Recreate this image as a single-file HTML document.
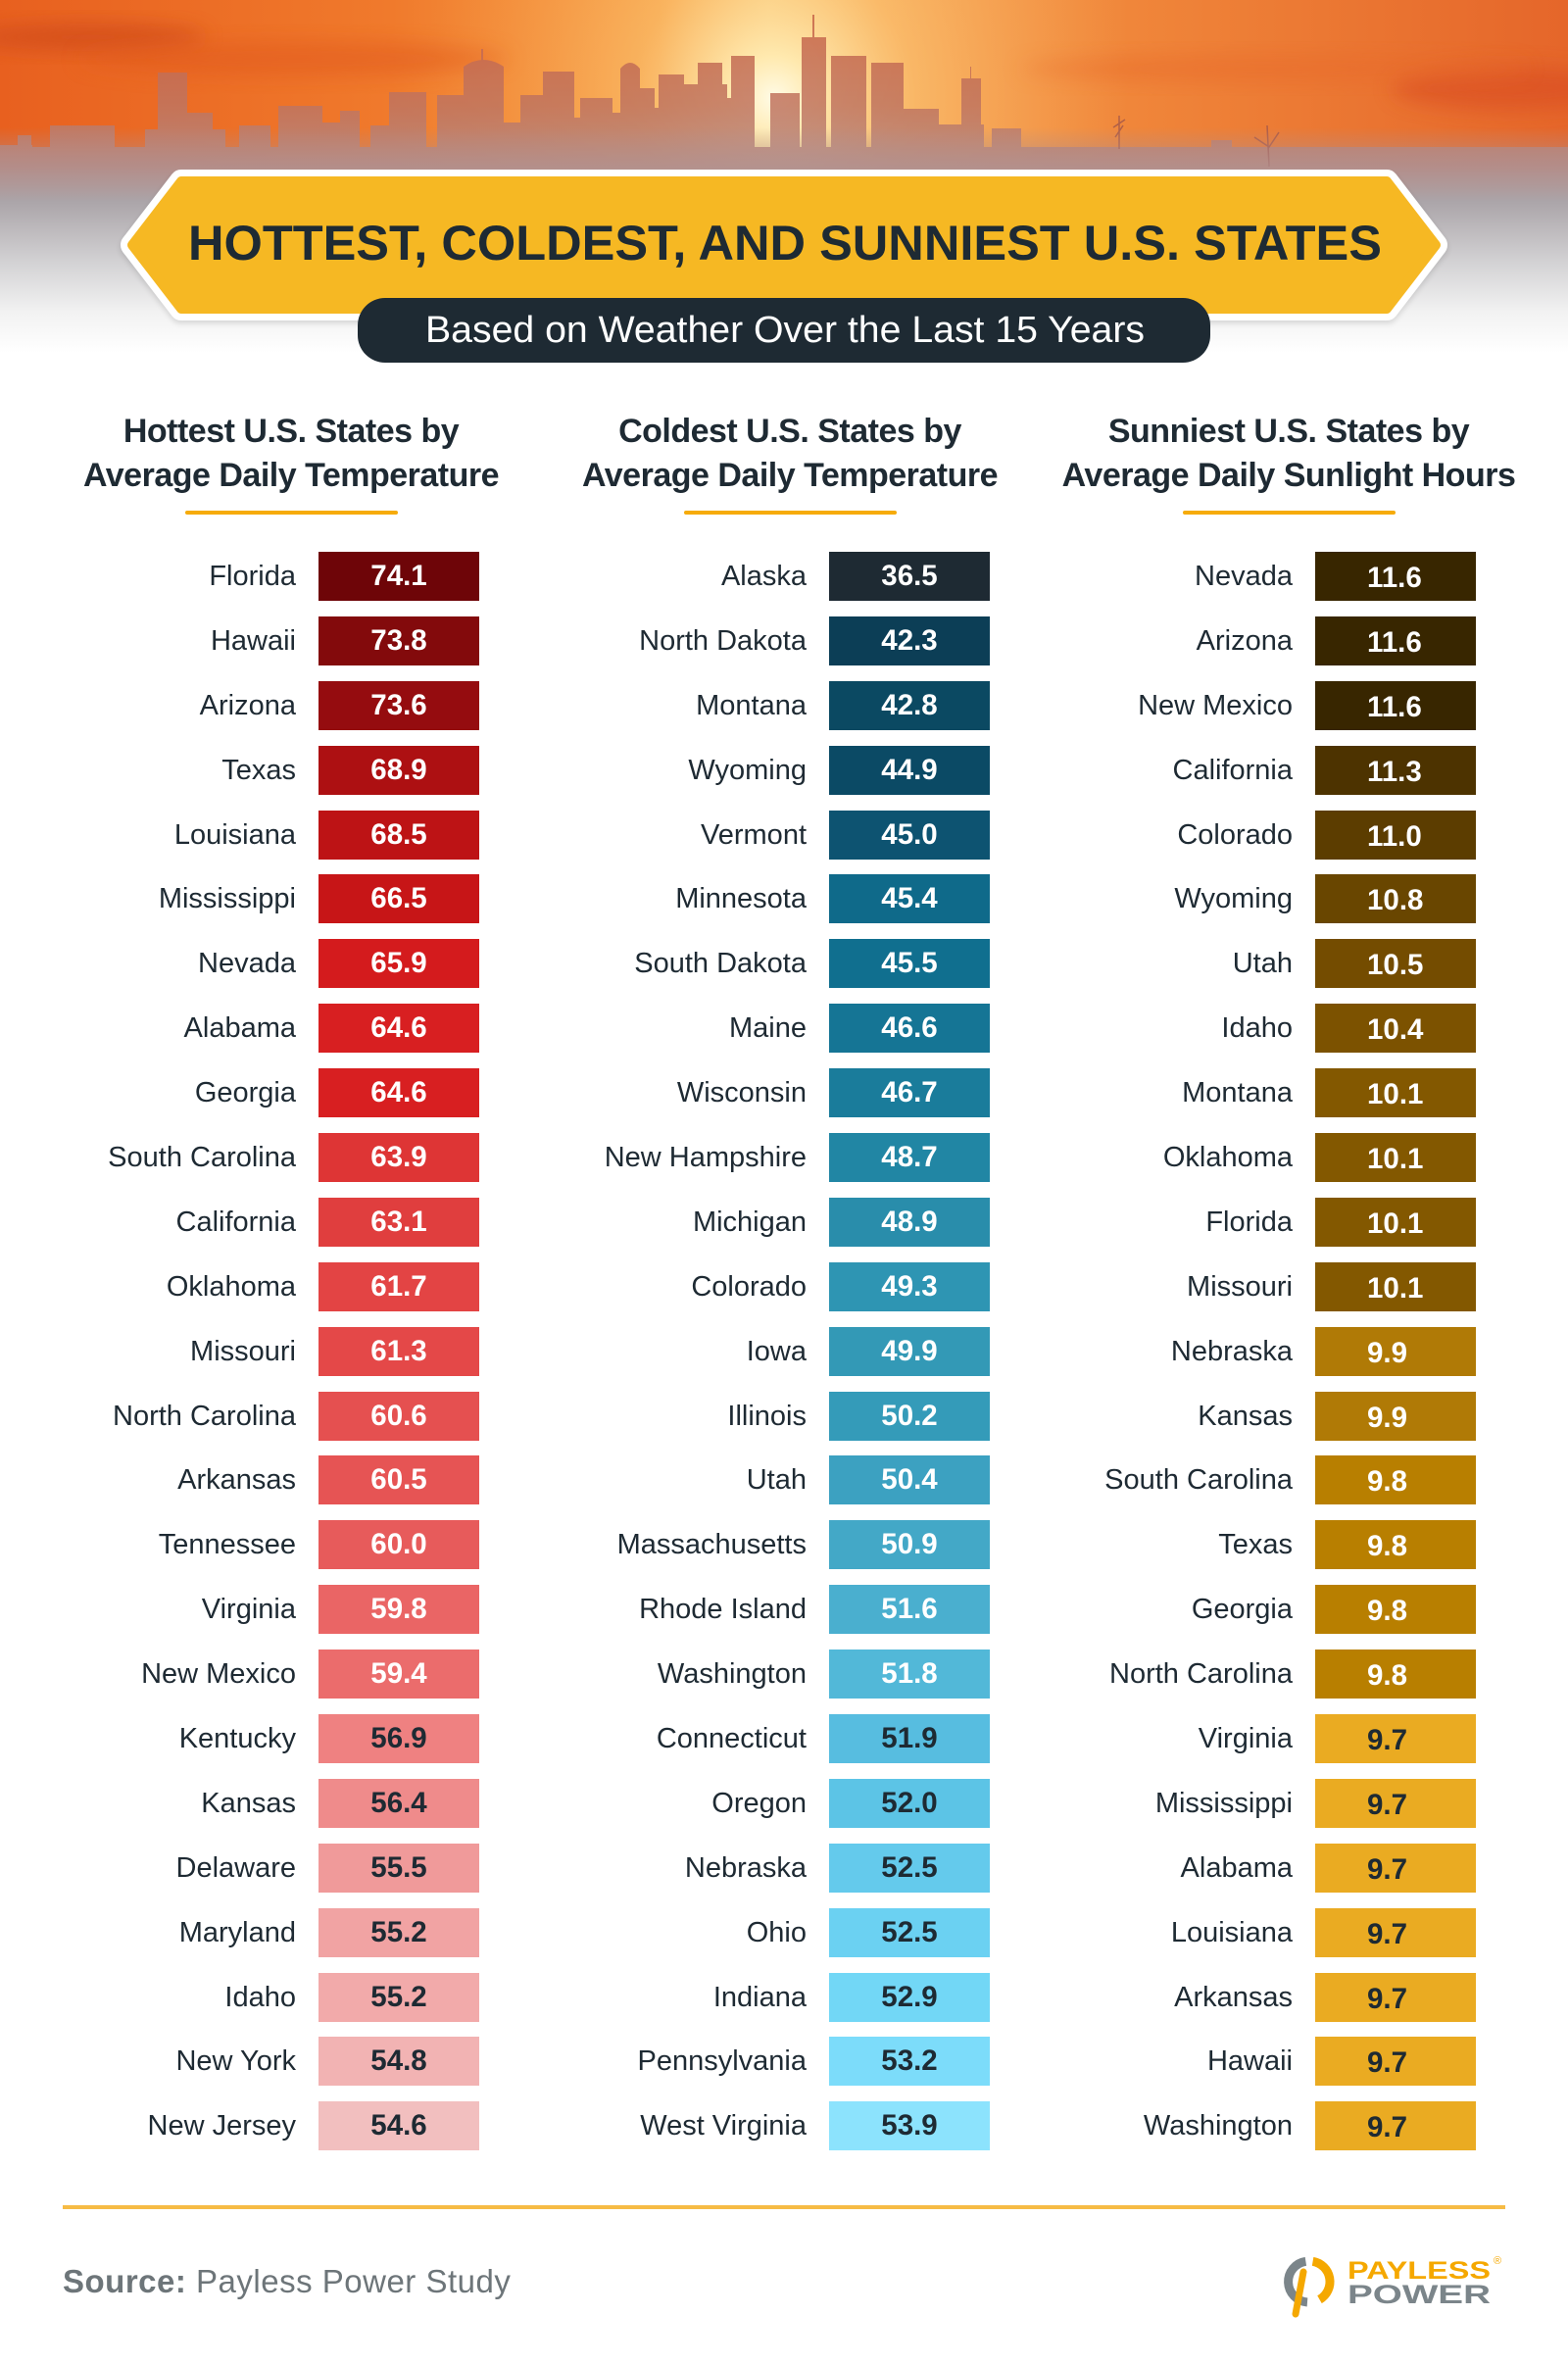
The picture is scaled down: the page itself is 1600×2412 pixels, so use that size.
<!DOCTYPE html>
<html><head><meta charset="utf-8">
<style>
*{margin:0;padding:0;box-sizing:border-box}
html,body{width:1600px;height:2412px;background:#fff;overflow:hidden}
body{position:relative;font-family:"Liberation Sans",sans-serif;color:#1e2a33}
#hdr{position:absolute;left:0;top:0}
.h{position:absolute;top:418px;width:560px;text-align:center;font-weight:bold;font-size:34px;line-height:45px;letter-spacing:-0.5px;color:#1e2a33;white-space:nowrap}
.ul{position:absolute;top:521px;height:4px;width:217px;border-radius:2px;background:#f6ab0a}
.col{position:absolute;top:563px;width:164px}
.r{position:relative;height:65.9px}
.l{position:absolute;right:100%;margin-right:23px;top:0;height:50px;line-height:50px;font-size:29px;white-space:nowrap;color:#1e2a33}
.v{position:absolute;left:0;top:0;width:164px;height:50px;line-height:50px;text-align:center;font-weight:bold;font-size:29.5px;color:#fff}
.d{color:#1e2a33}
.c3 .v{text-align:left;padding-left:53px;line-height:54px}
#foot{position:absolute;left:64px;top:2250px;width:1472px;height:4px;background:#f6bb45}
#src{position:absolute;left:64px;top:2308px;font-size:33px;line-height:40px;color:#6d7579;letter-spacing:0.5px;white-space:nowrap}
#logo{position:absolute;left:0;top:0}
</style></head><body>

<svg id="hdr" width="1600" height="400" viewBox="0 0 1600 400">
<defs>
<linearGradient id="sky" x1="0" y1="0" x2="1600" y2="0" gradientUnits="userSpaceOnUse">
<stop offset="0" stop-color="#e8601f"/>
<stop offset="0.25" stop-color="#f07a2c"/>
<stop offset="0.42" stop-color="#f7a64c"/>
<stop offset="0.49" stop-color="#fcd98e"/>
<stop offset="0.56" stop-color="#f8b462"/>
<stop offset="0.72" stop-color="#f0863a"/>
<stop offset="1" stop-color="#e5662a"/>
</linearGradient>
<radialGradient id="sun" cx="790" cy="100" r="360" gradientUnits="userSpaceOnUse">
<stop offset="0" stop-color="#fffbe6" stop-opacity="1"/>
<stop offset="0.12" stop-color="#ffeab0" stop-opacity="0.95"/>
<stop offset="0.4" stop-color="#fbc070" stop-opacity="0.5"/>
<stop offset="1" stop-color="#f59040" stop-opacity="0"/>
</radialGradient>
<linearGradient id="bld" x1="0" y1="20" x2="0" y2="180" gradientUnits="userSpaceOnUse">
<stop offset="0" stop-color="#c8664a"/>
<stop offset="0.55" stop-color="#c07560"/>
<stop offset="1" stop-color="#b48e8a"/>
</linearGradient>
<linearGradient id="haze" x1="0" y1="130" x2="0" y2="360" gradientUnits="userSpaceOnUse">
<stop offset="0" stop-color="#b08c8c" stop-opacity="0"/>
<stop offset="0.17" stop-color="#b09090" stop-opacity="0.7"/>
<stop offset="0.33" stop-color="#aba5a9" stop-opacity="1"/>
<stop offset="0.6" stop-color="#d3d2d4"/>
<stop offset="0.82" stop-color="#f2f2f2"/>
<stop offset="1" stop-color="#ffffff"/>
</linearGradient>
<filter id="bl" x="-20%" y="-50%" width="140%" height="200%"><feGaussianBlur stdDeviation="10"/></filter>
<filter id="sh" x="-5%" y="-10%" width="110%" height="130%"><feGaussianBlur stdDeviation="3"/></filter>
</defs>
<rect x="0" y="0" width="1600" height="400" fill="url(#sky)"/>
<ellipse cx="90" cy="38" rx="120" ry="14" fill="#cf4a1c" opacity="0.7" filter="url(#bl)"/>
<ellipse cx="300" cy="60" rx="220" ry="18" fill="#e0581e" opacity="0.5" filter="url(#bl)"/>
<ellipse cx="1540" cy="90" rx="120" ry="22" fill="#d94c22" opacity="0.6" filter="url(#bl)"/>
<ellipse cx="1300" cy="70" rx="260" ry="14" fill="#e86a2c" opacity="0.5" filter="url(#bl)"/>
<rect x="0" y="0" width="1600" height="400" fill="url(#sun)"/>
<g fill="url(#bld)" opacity="0.85">
<rect x="0" y="150" width="1600" height="60"/>
<rect x="0" y="148" width="33" height="20"/><rect x="18" y="138" width="14" height="20"/>
<rect x="51" y="128" width="66" height="40"/>
<rect x="148" y="132" width="82" height="40"/><rect x="161" y="74" width="30" height="80"/><rect x="191" y="115" width="26" height="40"/>
<rect x="244" y="128" width="32" height="40"/>
<rect x="284" y="108" width="45" height="60"/><rect x="329" y="125" width="18" height="40"/><rect x="347" y="113" width="20" height="50"/>
<rect x="378" y="128" width="56" height="40"/><rect x="397" y="94" width="38" height="70"/>
<rect x="446" y="97" width="28" height="70"/>
<path d="M473,160 L473,68 Q493,54 514,68 L514,160 Z"/><rect x="491" y="50" width="2" height="12"/>
<rect x="514" y="125" width="17" height="40"/>
<rect x="531" y="97" width="35" height="70"/><rect x="554" y="73" width="32" height="90"/>
<rect x="586" y="120" width="6" height="40"/>
<rect x="592" y="100" width="33" height="70"/><rect x="625" y="115" width="8" height="50"/>
<path d="M633,160 L633,70 Q643,58 653,70 L653,160 Z"/><rect x="653" y="90" width="15" height="70"/>
<rect x="668" y="110" width="23" height="60"/><rect x="672" y="76" width="26" height="80"/>
<rect x="691" y="86" width="51" height="80"/><rect x="712" y="64" width="25" height="80"/>
<rect x="742" y="100" width="4" height="60"/><rect x="746" y="57" width="24" height="100"/>
<rect x="786" y="95" width="30" height="70"/>
<rect x="818" y="38" width="25" height="130"/><rect x="829" y="15" width="2" height="25"/>
<rect x="848" y="57" width="36" height="110"/>
<rect x="889" y="64" width="33" height="100"/>
<rect x="922" y="111" width="36" height="60"/>
<rect x="958" y="127" width="46" height="40"/><rect x="981" y="80" width="20" height="70"/><rect x="990" y="68" width="1" height="14"/>
<rect x="1012" y="131" width="30" height="40"/>
<rect x="1042" y="150" width="54" height="20"/>
<rect x="1096" y="152" width="51" height="20"/>
<rect x="1162" y="150" width="18" height="20"/>
<rect x="1188" y="155" width="20" height="20"/>
<rect x="1216" y="157" width="20" height="20"/><rect x="1236" y="143" width="21" height="30"/>
<rect x="1297" y="153" width="69" height="20"/>
<rect x="1389" y="160" width="46" height="20"/>
<rect x="1448" y="162" width="20" height="20"/>
<rect x="1486" y="160" width="18" height="20"/>
<rect x="1504" y="162" width="96" height="20"/>
</g>
<g stroke="#a0554a" stroke-width="1.5" fill="none" opacity="0.8">
<path d="M1142,152 L1142,118 M1136,130 L1148,122 M1138,140 L1146,128"/>
<path d="M1293,128 L1295,170 M1280,140 L1295,150 L1305,135"/>
</g>
<rect x="0" y="130" width="1600" height="270" fill="url(#haze)"/>
<path d="M185,185 L1415,185 L1465,250 L1415,315 L185,315 L135,250 Z" fill="#000" opacity="0.12" stroke="#000" stroke-width="24" stroke-linejoin="round" filter="url(#sh)" transform="translate(0,3)"/>
<path d="M185,185 L1415,185 L1465,250 L1415,315 L185,315 L135,250 Z" fill="#ffffff" stroke="#ffffff" stroke-width="24" stroke-linejoin="round"/>
<path d="M185,185 L1415,185 L1465,250 L1415,315 L185,315 L135,250 Z" fill="#f6b823" stroke="#f6b823" stroke-width="10" stroke-linejoin="round"/>
<text x="801" y="265" text-anchor="middle" font-family="Liberation Sans, sans-serif" font-weight="bold" font-size="50" fill="#1e2a33" textLength="1218" lengthAdjust="spacingAndGlyphs">HOTTEST, COLDEST, AND SUNNIEST U.S. STATES</text>
<rect x="365" y="304" width="870" height="66" rx="28" ry="28" fill="#1e2a33"/>
<text x="801" y="349" text-anchor="middle" font-family="Liberation Sans, sans-serif" font-size="38" fill="#ffffff" textLength="734" lengthAdjust="spacingAndGlyphs">Based on Weather Over the Last 15 Years</text>
</svg>

<div class="h" style="left:17px">Hottest U.S. States by<br>Average Daily Temperature</div>
<div class="h" style="left:526px">Coldest U.S. States by<br>Average Daily Temperature</div>
<div class="h" style="left:1035px">Sunniest U.S. States by<br>Average Daily Sunlight Hours</div>
<div class="ul" style="left:189px"></div>
<div class="ul" style="left:698px"></div>
<div class="ul" style="left:1207px"></div>

<div class="col" style="left:325px">
<div class="r"><span class="l">Florida</span><span class="v" style="background:#6e0508">74.1</span></div>
<div class="r"><span class="l">Hawaii</span><span class="v" style="background:#830a0c">73.8</span></div>
<div class="r"><span class="l">Arizona</span><span class="v" style="background:#950c0f">73.6</span></div>
<div class="r"><span class="l">Texas</span><span class="v" style="background:#ad1012">68.9</span></div>
<div class="r"><span class="l">Louisiana</span><span class="v" style="background:#bd1315">68.5</span></div>
<div class="r"><span class="l">Mississippi</span><span class="v" style="background:#c71517">66.5</span></div>
<div class="r"><span class="l">Nevada</span><span class="v" style="background:#d41b1d">65.9</span></div>
<div class="r"><span class="l">Alabama</span><span class="v" style="background:#d81f21">64.6</span></div>
<div class="r"><span class="l">Georgia</span><span class="v" style="background:#d81f21">64.6</span></div>
<div class="r"><span class="l">South Carolina</span><span class="v" style="background:#de3535">63.9</span></div>
<div class="r"><span class="l">California</span><span class="v" style="background:#e03e3e">63.1</span></div>
<div class="r"><span class="l">Oklahoma</span><span class="v" style="background:#e34444">61.7</span></div>
<div class="r"><span class="l">Missouri</span><span class="v" style="background:#e44848">61.3</span></div>
<div class="r"><span class="l">North Carolina</span><span class="v" style="background:#e55050">60.6</span></div>
<div class="r"><span class="l">Arkansas</span><span class="v" style="background:#e65454">60.5</span></div>
<div class="r"><span class="l">Tennessee</span><span class="v" style="background:#e75b5b">60.0</span></div>
<div class="r"><span class="l">Virginia</span><span class="v" style="background:#ea6565">59.8</span></div>
<div class="r"><span class="l">New Mexico</span><span class="v" style="background:#eb6c6c">59.4</span></div>
<div class="r"><span class="l">Kentucky</span><span class="v d" style="background:#ef8181">56.9</span></div>
<div class="r"><span class="l">Kansas</span><span class="v d" style="background:#ef8b8b">56.4</span></div>
<div class="r"><span class="l">Delaware</span><span class="v d" style="background:#f09a9a">55.5</span></div>
<div class="r"><span class="l">Maryland</span><span class="v d" style="background:#f1a3a3">55.2</span></div>
<div class="r"><span class="l">Idaho</span><span class="v d" style="background:#f2aaaa">55.2</span></div>
<div class="r"><span class="l">New York</span><span class="v d" style="background:#f2b3b3">54.8</span></div>
<div class="r"><span class="l">New Jersey</span><span class="v d" style="background:#f2bfbf">54.6</span></div>
</div>

<div class="col" style="left:846px">
<div class="r"><span class="l">Alaska</span><span class="v" style="background:#1e2a33">36.5</span></div>
<div class="r"><span class="l">North Dakota</span><span class="v" style="background:#0c3e56">42.3</span></div>
<div class="r"><span class="l">Montana</span><span class="v" style="background:#0b4962">42.8</span></div>
<div class="r"><span class="l">Wyoming</span><span class="v" style="background:#0b4a65">44.9</span></div>
<div class="r"><span class="l">Vermont</span><span class="v" style="background:#0d5371">45.0</span></div>
<div class="r"><span class="l">Minnesota</span><span class="v" style="background:#0f6a8a">45.4</span></div>
<div class="r"><span class="l">South Dakota</span><span class="v" style="background:#106f8f">45.5</span></div>
<div class="r"><span class="l">Maine</span><span class="v" style="background:#157595">46.6</span></div>
<div class="r"><span class="l">Wisconsin</span><span class="v" style="background:#1a7c9b">46.7</span></div>
<div class="r"><span class="l">New Hampshire</span><span class="v" style="background:#2186a4">48.7</span></div>
<div class="r"><span class="l">Michigan</span><span class="v" style="background:#298dab">48.9</span></div>
<div class="r"><span class="l">Colorado</span><span class="v" style="background:#2e95b3">49.3</span></div>
<div class="r"><span class="l">Iowa</span><span class="v" style="background:#3399b6">49.9</span></div>
<div class="r"><span class="l">Illinois</span><span class="v" style="background:#349bb9">50.2</span></div>
<div class="r"><span class="l">Utah</span><span class="v" style="background:#3ca1c1">50.4</span></div>
<div class="r"><span class="l">Massachusetts</span><span class="v" style="background:#43a8c7">50.9</span></div>
<div class="r"><span class="l">Rhode Island</span><span class="v" style="background:#4aafcf">51.6</span></div>
<div class="r"><span class="l">Washington</span><span class="v" style="background:#52b8d8">51.8</span></div>
<div class="r"><span class="l">Connecticut</span><span class="v d" style="background:#57bde0">51.9</span></div>
<div class="r"><span class="l">Oregon</span><span class="v d" style="background:#5cc4e6">52.0</span></div>
<div class="r"><span class="l">Nebraska</span><span class="v d" style="background:#64caec">52.5</span></div>
<div class="r"><span class="l">Ohio</span><span class="v d" style="background:#6bd1f2">52.5</span></div>
<div class="r"><span class="l">Indiana</span><span class="v d" style="background:#72d7f6">52.9</span></div>
<div class="r"><span class="l">Pennsylvania</span><span class="v d" style="background:#7cdcfa">53.2</span></div>
<div class="r"><span class="l">West Virginia</span><span class="v d" style="background:#8ce3fd">53.9</span></div>
</div>

<div class="col c3" style="left:1342px">
<div class="r"><span class="l">Nevada</span><span class="v" style="background:#382600">11.6</span></div>
<div class="r"><span class="l">Arizona</span><span class="v" style="background:#382600">11.6</span></div>
<div class="r"><span class="l">New Mexico</span><span class="v" style="background:#382600">11.6</span></div>
<div class="r"><span class="l">California</span><span class="v" style="background:#4d3300">11.3</span></div>
<div class="r"><span class="l">Colorado</span><span class="v" style="background:#5c3d00">11.0</span></div>
<div class="r"><span class="l">Wyoming</span><span class="v" style="background:#694600">10.8</span></div>
<div class="r"><span class="l">Utah</span><span class="v" style="background:#744c00">10.5</span></div>
<div class="r"><span class="l">Idaho</span><span class="v" style="background:#7c5200">10.4</span></div>
<div class="r"><span class="l">Montana</span><span class="v" style="background:#835800">10.1</span></div>
<div class="r"><span class="l">Oklahoma</span><span class="v" style="background:#835800">10.1</span></div>
<div class="r"><span class="l">Florida</span><span class="v" style="background:#835800">10.1</span></div>
<div class="r"><span class="l">Missouri</span><span class="v" style="background:#835800">10.1</span></div>
<div class="r"><span class="l">Nebraska</span><span class="v" style="background:#b07a06">9.9</span></div>
<div class="r"><span class="l">Kansas</span><span class="v" style="background:#b07a06">9.9</span></div>
<div class="r"><span class="l">South Carolina</span><span class="v" style="background:#b87f00">9.8</span></div>
<div class="r"><span class="l">Texas</span><span class="v" style="background:#b87f00">9.8</span></div>
<div class="r"><span class="l">Georgia</span><span class="v" style="background:#b87f00">9.8</span></div>
<div class="r"><span class="l">North Carolina</span><span class="v" style="background:#b87f00">9.8</span></div>
<div class="r"><span class="l">Virginia</span><span class="v d" style="background:#eaab22">9.7</span></div>
<div class="r"><span class="l">Mississippi</span><span class="v d" style="background:#eaab22">9.7</span></div>
<div class="r"><span class="l">Alabama</span><span class="v d" style="background:#eaab22">9.7</span></div>
<div class="r"><span class="l">Louisiana</span><span class="v d" style="background:#eaab22">9.7</span></div>
<div class="r"><span class="l">Arkansas</span><span class="v d" style="background:#eaab22">9.7</span></div>
<div class="r"><span class="l">Hawaii</span><span class="v d" style="background:#eaab22">9.7</span></div>
<div class="r"><span class="l">Washington</span><span class="v d" style="background:#eaab22">9.7</span></div>
</div>

<div id="foot"></div>
<div id="src"><b>Source:</b> Payless Power Study</div>

<svg id="logo" width="1600" height="2412" viewBox="0 0 1600 2412" style="pointer-events:none">
<path d="M1332.4,2307.3 A21,21 0 0,0 1334,2349" fill="none" stroke="#7b858a" stroke-width="9"/>
<path d="M1339.6,2307.3 A21,21 0 0,1 1346.5,2346.2" fill="none" stroke="#f5a800" stroke-width="9"/>
<line x1="1330" y1="2318" x2="1322" y2="2361" stroke="#f5a800" stroke-width="7" stroke-linecap="round"/>
<text x="1375" y="2325" font-family="Liberation Sans, sans-serif" font-weight="bold" font-size="25" fill="#f5a800" textLength="146" lengthAdjust="spacingAndGlyphs">PAYLESS</text>
<text x="1375" y="2350" font-family="Liberation Sans, sans-serif" font-weight="bold" font-size="27" fill="#7b858a" textLength="146" lengthAdjust="spacingAndGlyphs">POWER</text>
<text x="1524" y="2310" font-family="Liberation Sans, sans-serif" font-size="11" fill="#f5a800">®</text>
</svg>
</body></html>
